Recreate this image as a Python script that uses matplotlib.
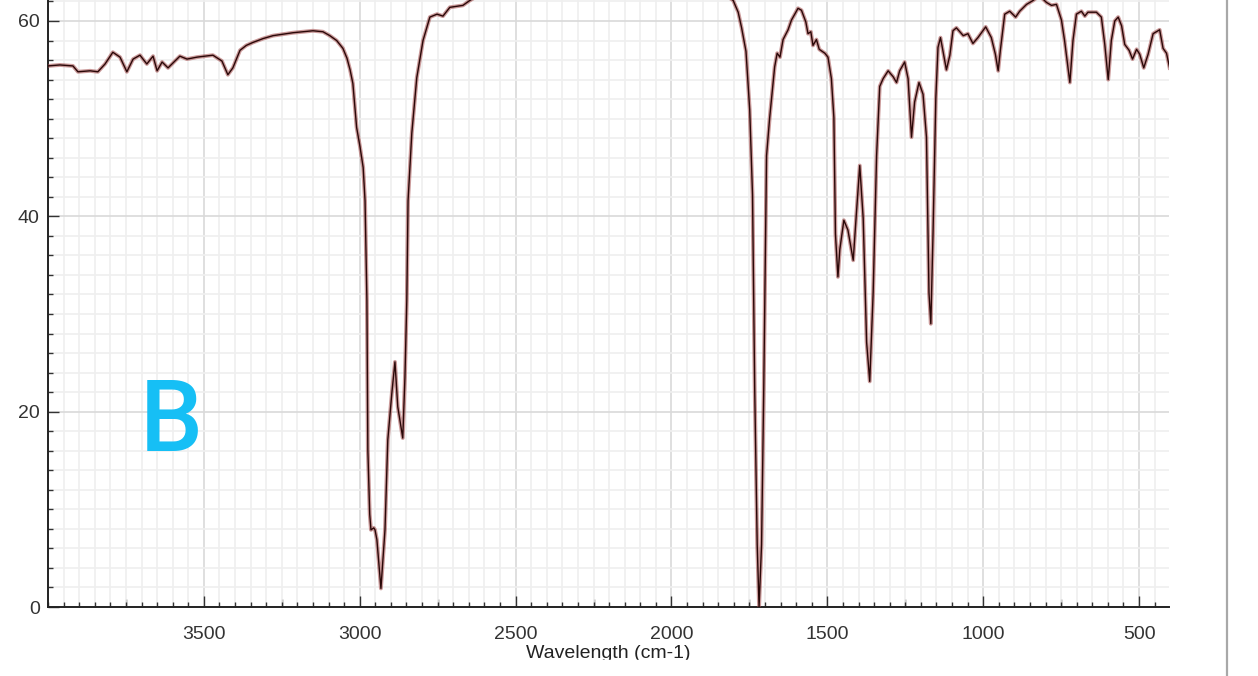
import numpy as np
import matplotlib
matplotlib.use("Agg")
import matplotlib.pyplot as plt
from matplotlib.ticker import MultipleLocator, FixedLocator
from matplotlib.patches import Rectangle
from matplotlib.lines import Line2D

plt.rcParams['font.family'] = ['Liberation Sans', 'DejaVu Sans']

# IR spectrum: wavenumber (cm-1) and %T
wavenumber = [
    4000, 3962, 3920, 3904, 3865, 3840, 3817, 3792, 3769, 3747, 3727, 3705,
    3683, 3663, 3650, 3634, 3615, 3577, 3554, 3522, 3471, 3442, 3423, 3407,
    3384, 3364, 3343, 3310, 3278, 3214, 3150, 3118, 3096, 3074, 3054, 3041,
    3031, 3022, 3010, 2999, 2989, 2983, 2977, 2974, 2968, 2964, 2955, 2951,
    2945, 2932, 2919, 2910, 2897, 2887, 2878, 2862, 2855, 2849, 2845, 2833,
    2817, 2797, 2775, 2752, 2733, 2711, 2669, 2647, 2600, 2400, 2200, 2000,
    1850, 1802, 1786, 1775, 1761, 1749, 1740, 1733, 1725, 1719, 1711, 1704,
    1695, 1685, 1669, 1661, 1652, 1642, 1626, 1615, 1594, 1583, 1569, 1562,
    1553, 1546, 1535, 1526, 1508, 1498, 1487, 1479, 1474, 1466, 1460, 1447,
    1434, 1417, 1407, 1396, 1385, 1374, 1364, 1353, 1342, 1332, 1321, 1305,
    1289, 1278, 1268, 1252, 1241, 1230, 1220, 1206, 1193, 1182, 1174, 1168,
    1161, 1152, 1145, 1137, 1129, 1118, 1107, 1097, 1086, 1064, 1049, 1033,
    1017, 992, 974, 961, 952, 945, 931, 915, 896, 883, 861, 840,
    820, 797, 781, 765, 749, 739, 722, 712, 701, 685, 674, 664,
    637, 621, 610, 599, 589, 578, 567, 556, 546, 532, 521, 508,
    498, 485, 471, 455, 434, 423, 412, 402,
]
transmittance = [
    55.4, 55.5, 55.4, 54.8, 54.9, 54.8, 55.6, 56.8, 56.3, 54.8, 56.1, 56.5,
    55.6, 56.4, 54.9, 55.8, 55.2, 56.4, 56.1, 56.3, 56.5, 55.9, 54.5, 55.2,
    57.0, 57.5, 57.8, 58.2, 58.5, 58.8, 59.0, 58.9, 58.5, 58.0, 57.2, 56.2,
    55.0, 53.6, 49.1, 47.1, 45.0, 41.6, 31.4, 16.1, 9.5, 7.9, 8.1, 7.9,
    6.9, 1.9, 7.9, 17.1, 21.9, 25.1, 20.5, 17.3, 23.5, 31.4, 41.6, 48.5,
    54.2, 58.0, 60.4, 60.7, 60.5, 61.4, 61.6, 62.1, 63.0, 64.0, 64.2, 64.0,
    63.2, 62.1, 60.9, 59.3, 56.9, 50.9, 42.2, 22.3, 6.4, 0.0, 6.4, 22.3,
    46.2, 50.1, 55.3, 56.7, 56.3, 58.1, 59.1, 60.1, 61.3, 61.1, 59.9, 58.7,
    58.9, 57.5, 58.1, 57.1, 56.7, 56.3, 54.1, 50.1, 38.2, 33.8, 36.6, 39.6,
    38.6, 35.5, 40.2, 45.2, 39.8, 27.1, 23.1, 32.2, 46.2, 53.3, 54.1, 54.9,
    54.3, 53.7, 54.9, 55.8, 54.1, 48.1, 51.7, 53.7, 52.5, 48.1, 32.2, 29.0,
    38.2, 52.1, 57.3, 58.3, 56.9, 55.0, 56.5, 59.0, 59.3, 58.5, 58.7, 57.7,
    58.3, 59.4, 58.3, 56.6, 54.9, 57.0, 60.7, 61.0, 60.4, 61.0, 61.7, 62.1,
    62.6, 61.9, 61.6, 61.7, 60.1, 58.0, 53.7, 58.0, 60.7, 61.0, 60.5, 60.9,
    60.9, 60.4, 57.6, 54.0, 58.0, 60.0, 60.4, 59.5, 57.6, 57.0, 56.1, 57.1,
    56.6, 55.2, 56.6, 58.7, 59.1, 57.2, 56.7, 55.2,
]

x_labeled = np.arange(3500, 400, -500)
x_mid = np.arange(3750, 400, -500)
panel_label = "B"
x_title = "Wavelength (cm-1)"

fig = plt.figure(figsize=(12.58, 6.76), dpi=100)
ax = fig.add_axes([48 / 1258, 69 / 676, 1121 / 1258, 607 / 676])

ax.plot(wavenumber, transmittance, color='#a04848', lw=2.8, alpha=0.55,
        solid_joinstyle='round', zorder=3)
ax.plot(wavenumber, transmittance, color='#2a0808', lw=1.0, zorder=4)

ax.set_xlim(4000, 404)
ax.set_ylim(0, 62.15)

ax.xaxis.set_major_locator(FixedLocator(x_labeled))
ax.xaxis.set_minor_locator(MultipleLocator(50))
ax.yaxis.set_major_locator(MultipleLocator(20))
ax.yaxis.set_minor_locator(MultipleLocator(2))

ax.grid(which='major', color='#d9d9d9', lw=1.2, zorder=0)
ax.grid(which='minor', color='#efefef', lw=1.2, zorder=0)
ax.set_axisbelow(True)

for s in ['top', 'right']:
    ax.spines[s].set_visible(False)
for s in ['left', 'bottom']:
    ax.spines[s].set_color('#222222')
    ax.spines[s].set_linewidth(1.4)

ax.tick_params(which='major', direction='in', length=8, width=1.0,
               color='#333333', labelsize=14, labelcolor='#333333')
ax.tick_params(which='minor', direction='in', length=3.5, width=1.0,
               color='#333333')
ax.tick_params(axis='x', which='major', pad=14)
ax.tick_params(axis='y', which='major', pad=6)

sec = ax.secondary_xaxis('bottom')
sec.set_xticks(x_mid)
sec.tick_params(direction='in', length=6, width=1.0, color='#333333',
                labelbottom=False)
sec.spines['bottom'].set_visible(False)

ax.set_xlabel(x_title, fontsize=14, color='#222222', labelpad=1)

ax.text(3606, 16.0, panel_label, fontsize=72, color='#16bff5',
        family=['Roboto', 'DejaVu Sans'], fontweight='medium',
        ha='center', va='baseline')

# cropped bottom edge and page border on the right
fig.add_artist(Rectangle((0, 0), 1215 / 1258, 16 / 676,
                         transform=fig.transFigure, color='white', zorder=10))
fig.add_artist(Line2D([1227 / 1258, 1227 / 1258], [0, 1],
                      transform=fig.transFigure, color='#a8a8a8', lw=1.6))

fig.savefig("out.png", dpi=100)
